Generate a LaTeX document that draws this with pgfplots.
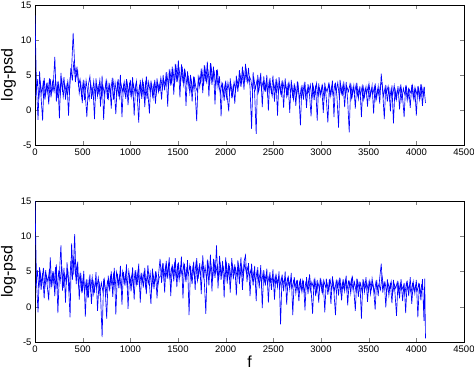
\documentclass[border=0pt]{standalone}
\usepackage{pgfplots}
\pgfplotsset{compat=1.18}
\usepackage{fontspec}
\setmainfont{Liberation Sans}
\begin{document}
\begin{tikzpicture}
\path[use as bounding box] (0pt,0pt) rectangle (474pt,370pt);
\pgfplotsset{
  psd/.style={
    scale only axis, width=429pt,
    xmin=0, xmax=4500, ymin=-5, ymax=15,
    xtick={0,500,...,4500}, ytick={-5,0,5,10,15},
    scaled x ticks=false,
    /pgf/number format/1000 sep={},
    /pgf/number format/assume math mode=true,
    tick label style={font=\fontsize{9.5}{11}\selectfont},
    tick align=inside, major tick length=4pt,
    ylabel={log-psd},
    ylabel style={font=\fontsize{16}{18}\selectfont, at={(axis description cs:-0.062,0.5)}, anchor=center, rotate=0},
    axis line style={line width=0.5pt},
    every axis plot/.append style={blue, line width=0.65pt},
  }
}
\begin{axis}[psd, height=140pt, at={(35pt,365pt)}, anchor=north west]
\addplot[blue] coordinates {
(0,13.5)(16,3.0)(32,-1.4)(48,5.5)(64,1.8)(80,-1.5)(96,4.6)(112,2.2)(128,3.9)(144,0.8)(160,4.4)(176,2.5)(192,3.6)(208,7.6)(224,1.2)(240,4.1)(256,-1.2)(272,5.3)(288,2.6)(304,4.7)(320,1.5)(336,3.8)(352,-0.8)
(368,4.5)(384,5.8)(400,11.0)(416,6.5)(432,4.8)(448,5.6)(464,2.4)
(480,3.9)(496,1.0)(512,4.3)(528,2.1)(544,-1.0)(560,3.6)(576,4.8)(592,1.6)(608,3.3)(624,-1.3)(640,4.5)(656,2.0)(672,3.7)(688,0.5)(704,4.9)(720,-1.4)(736,3.1)(752,4.2)(768,1.4)(784,3.8)(800,0.2)(816,4.6)(832,2.7)(848,-0.6)(864,4.1)(880,1.9)(896,5.0)(912,-1.0)(928,3.5)(944,2.3)(960,4.4)(976,0.7)(992,3.9)(1008,1.8)(1024,4.7)(1040,-0.8)(1056,3.4)(1072,2.2)(1088,-1.8)(1104,4.3)(1120,1.6)(1136,4.0)(1152,0.4)(1168,4.8)(1184,2.5)(1200,-0.5)(1216,4.2)(1232,2.0)(1248,3.8)(1264,0.9)(1280,4.5)(1296,2.6)
(1312,3.9)(1328,1.5)(1344,5.0)(1360,2.8)(1376,5.4)(1392,0.5)(1408,5.8)(1424,3.5)(1440,6.2)(1456,2.2)(1472,6.6)(1488,4.0)(1504,7.1)(1520,1.8)(1536,6.5)(1552,3.9)(1568,5.9)(1584,0.6)(1600,5.5)
(1616,3.0)(1632,5.0)(1648,1.2)(1664,4.8)(1680,2.5)(1696,-1.6)(1712,4.6)
(1728,3.3)(1744,5.9)(1760,2.4)(1776,6.4)(1792,4.1)(1808,6.9)(1824,1.9)(1840,6.7)(1856,3.6)(1872,6.2)(1888,0.8)(1904,5.7)(1920,3.2)
(1936,4.8)(1952,-0.9)(1968,3.9)(1984,1.3)(2000,4.2)(2016,2.0)(2032,-0.2)(2048,4.5)(2064,1.7)(2080,3.6)(2096,0.9)
(2112,4.9)(2128,2.6)(2144,5.7)(2160,3.3)(2176,6.2)(2192,2.9)(2208,6.6)(2224,4.0)(2240,6.0)
(2256,3.1)(2272,-2.7)(2288,5.4)(2304,2.4)(2320,-3.4)(2336,5.0)(2352,3.2)(2368,5.3)(2384,0.4)(2400,4.8)
(2416,2.6)(2432,5.0)(2448,-0.1)(2464,4.6)(2480,2.3)(2496,4.9)(2512,1.2)(2528,4.4)(2544,-0.8)(2560,4.7)(2576,2.5)(2592,4.2)(2608,0.3)(2624,4.5)(2640,2.0)(2656,3.9)(2672,-0.4)(2688,4.3)
(2704,1.7)(2720,3.8)(2736,0.6)(2752,4.1)(2768,2.2)(2784,-2.2)(2800,3.6)(2816,1.5)(2832,4.0)(2848,0.3)(2864,3.7)(2880,2.1)(2896,-0.9)(2912,3.9)(2928,1.4)(2944,3.5)(2960,-1.5)(2976,3.8)(2992,2.0)(3008,3.3)(3024,-0.4)(3040,3.9)(3056,1.6)(3072,-1.8)(3088,3.5)
(3104,2.2)(3120,4.2)(3136,-1.0)(3152,3.9)(3168,1.8)(3184,-2.5)(3200,4.3)(3216,2.4)(3232,3.7)(3248,0.4)(3264,4.0)(3280,1.3)(3296,-3.2)(3312,3.8)(3328,2.0)(3344,3.5)(3360,0.2)(3376,3.9)(3392,1.6)
(3408,3.4)(3424,-1.0)(3440,3.6)(3456,1.9)(3472,3.3)(3488,0.5)(3504,3.7)(3520,2.1)(3536,3.5)(3552,-0.5)(3568,3.8)(3584,1.7)(3600,3.4)(3616,0.9)(3632,5.2)(3648,2.4)(3664,-1.3)(3680,3.6)(3696,1.2)(3712,3.3)(3728,-0.2)(3744,3.5)(3760,-1.9)(3776,3.1)(3792,1.5)(3808,3.4)(3824,0.1)(3840,3.3)(3856,1.8)(3872,-1.0)(3888,3.5)(3904,1.4)(3920,3.2)(3936,0.3)(3952,3.6)(3968,1.7)(3984,3.1)(4000,-0.8)(4016,3.4)(4032,1.5)(4048,3.7)(4064,0.6)(4080,3.3)(4096,1.0)
};
\addplot[blue] coordinates {
(8,2.0)(24,4.4)(40,1.6)(56,3.9)(72,2.3)(88,4.2)(104,1.5)(120,3.6)(136,2.4)(152,4.5)(168,1.8)(184,4.0)(200,2.6)(216,4.3)(232,1.7)(248,3.8)(264,2.1)(280,4.6)(296,1.9)(312,3.7)(328,2.5)(344,4.1)(360,2.2)(376,6.0)(392,4.2)(408,7.0)(424,4.0)(440,6.2)(456,3.5)(472,4.4)
(488,2.0)(504,3.9)(520,1.4)(536,4.2)(552,2.6)(568,1.5)(584,3.8)(600,2.3)(616,4.1)(632,1.7)(648,3.6)(664,2.5)(680,4.3)(696,1.9)(712,3.5)(728,2.2)(744,4.0)(760,1.6)(776,3.7)(792,2.4)(808,4.2)(824,1.5)(840,3.9)(856,2.1)(872,4.4)(888,1.8)(904,3.6)(920,2.6)(936,4.0)(952,1.6)(968,3.8)(984,2.3)(1000,4.3)(1016,1.9)(1032,3.7)(1048,2.5)(1064,4.1)(1080,1.7)(1096,3.5)(1112,2.4)(1128,4.2)(1144,2.0)(1160,3.9)(1176,1.6)(1192,4.0)(1208,2.6)(1224,3.7)(1240,1.8)(1256,4.3)(1272,2.3)(1288,3.8)(1304,2.9)
(1320,4.6)(1336,3.0)(1352,4.2)(1368,3.6)(1384,5.1)(1400,3.2)(1416,5.5)(1432,3.9)(1448,5.6)(1464,3.7)(1480,6.1)(1496,4.3)(1512,5.8)(1528,4.0)(1544,6.2)(1560,3.6)(1576,5.4)(1592,3.8)
(1608,4.7)(1624,2.4)(1640,4.2)(1656,2.8)(1672,4.5)(1688,3.2)(1704,2.6)(1720,4.8)
(1736,3.9)(1752,5.6)(1768,3.5)(1784,5.9)(1800,4.0)(1816,5.5)(1832,3.7)(1848,6.2)(1864,4.3)(1880,5.4)(1896,3.4)(1912,5.8)(1928,3.6)
(1944,2.4)(1960,3.8)(1976,2.2)(1992,3.5)(2008,1.8)(2024,3.9)(2040,2.5)(2056,3.6)(2072,2.0)(2088,4.0)(2104,2.8)
(2120,4.2)(2136,3.4)(2152,5.0)(2168,3.8)(2184,5.4)(2200,4.1)(2216,5.7)(2232,3.9)(2248,4.8)
(2264,4.3)(2280,2.8)(2296,4.5)(2312,3.0)(2328,4.2)(2344,2.6)(2360,4.4)(2376,3.1)(2392,4.0)(2408,2.9)
(2424,3.9)(2440,2.2)(2456,4.1)(2472,3.3)(2488,2.0)(2504,3.8)(2520,2.7)(2536,4.2)(2552,2.4)(2568,3.6)(2584,2.1)(2600,4.0)(2616,2.8)(2632,3.5)(2648,2.2)(2664,3.9)(2680,2.6)(2696,3.4)
(2712,1.5)(2728,3.3)(2744,2.0)(2760,3.6)(2776,1.4)(2792,3.2)(2808,2.3)(2824,3.7)(2840,1.8)(2856,3.0)(2872,2.5)(2888,3.6)(2904,1.6)(2920,3.3)(2936,2.2)(2952,3.8)(2968,1.9)(2984,3.1)(3000,2.4)(3016,3.5)(3032,1.7)(3048,3.2)(3064,2.6)(3080,3.7)(3096,1.9)
(3112,3.3)(3128,2.1)(3144,3.6)(3160,2.7)(3176,3.9)(3192,1.8)(3208,3.4)(3224,2.2)(3240,3.8)(3256,2.0)(3272,3.3)(3288,2.6)(3304,3.7)(3320,1.7)(3336,3.2)(3352,2.4)(3368,3.6)(3384,2.1)(3400,3.0)
(3416,2.2)(3432,3.4)(3448,1.5)(3464,3.1)(3480,2.4)(3496,3.5)(3512,1.6)(3528,3.0)(3544,2.3)(3560,3.3)(3576,1.4)(3592,2.9)(3608,2.2)(3624,3.6)(3640,3.9)(3656,2.0)(3672,3.2)(3688,2.5)(3704,3.4)(3720,1.5)(3736,3.0)(3752,2.1)(3768,3.5)(3784,1.7)(3800,2.8)(3816,2.3)(3832,3.4)(3848,1.4)(3864,3.1)(3880,2.2)(3896,3.3)(3912,1.6)(3928,2.9)(3944,2.4)(3960,3.5)(3976,1.5)(3992,3.0)(4008,2.1)(4024,3.2)(4040,1.8)(4056,3.4)(4072,2.0)(4088,3.3)
};
\end{axis}
\begin{axis}[psd, height=141pt, at={(35pt,169pt)}, anchor=north west,
  xlabel={f}, xlabel style={font=\fontsize{16}{18}\selectfont, at={(axis description cs:0.5,-0.14)}, anchor=center}]
\addplot[blue] coordinates {
(0,15.0)(16,3.5)(32,-0.8)(48,5.6)(64,2.4)(80,4.8)(96,1.2)(112,5.2)(128,3.0)(144,0.9)(160,7.0)(176,2.8)(192,5.0)(208,1.5)(224,6.0)(240,-0.9)(256,4.6)(272,8.7)(288,2.3)(304,5.5)(320,0.6)(336,6.3)(352,3.0)(368,-1.5)(384,9.0)(400,4.5)(416,10.3)(432,3.2)(448,6.4)(464,1.0)
(480,4.8)(496,2.0)(512,5.1)(528,-1.4)(544,3.9)(560,1.3)(576,4.6)(592,0.4)(608,3.8)(624,2.0)(640,4.9)(656,-0.6)(672,3.6)(688,1.6)(704,-4.3)(720,4.0)(736,2.5)(752,-1.7)(768,4.4)(784,2.2)
(800,5.0)(816,1.4)(832,5.5)(848,-1.1)(864,4.7)(880,2.6)(896,5.8)(912,0.3)(928,4.9)(944,3.0)(960,6.0)(976,-0.3)(992,4.5)(1008,2.2)(1024,5.6)(1040,1.0)(1056,5.2)(1072,3.1)(1088,6.1)(1104,0.6)(1120,4.8)(1136,2.7)(1152,5.5)(1168,1.8)(1184,5.9)(1200,3.3)(1216,0.4)(1232,5.4)(1248,2.5)(1264,5.0)(1280,1.2)(1296,4.6)
(1312,6.8)(1328,3.4)(1344,6.2)(1360,2.0)(1376,6.5)(1392,4.0)(1408,7.0)(1424,1.5)(1440,6.0)(1456,3.6)(1472,6.9)(1488,2.8)(1504,6.3)(1520,4.2)(1536,7.1)(1552,1.2)(1568,6.1)(1584,3.5)(1600,6.6)(1616,-1.2)(1632,5.8)(1648,3.2)(1664,6.4)(1680,2.4)(1696,6.9)(1712,4.0)(1728,6.2)(1744,1.8)(1760,7.3)(1776,3.6)(1792,-1.0)(1808,6.7)(1824,3.0)(1840,7.4)(1856,2.2)(1872,6.8)(1888,4.1)(1904,8.7)(1920,2.6)(1936,7.2)(1952,3.8)(1968,6.5)(1984,1.3)(2000,7.0)(2016,3.3)(2032,6.2)(2048,2.0)(2064,6.9)(2080,3.9)(2096,6.0)(2112,1.6)(2128,6.6)(2144,3.2)(2160,7.0)(2176,2.4)(2192,6.4)(2208,7.3)(2224,3.5)(2240,6.2)
(2256,1.5)(2272,6.1)(2288,3.0)(2304,5.8)(2320,0.8)(2336,5.6)(2352,2.6)(2368,5.9)(2384,-0.2)(2400,5.2)(2416,3.0)(2432,5.4)(2448,0.6)(2464,4.9)(2480,2.4)(2496,5.3)(2512,1.0)(2528,4.7)(2544,2.8)(2560,5.0)(2576,-2.5)(2592,4.6)(2608,2.2)(2624,5.0)(2640,0.3)(2656,4.4)(2672,2.5)(2688,4.8)(2704,-1.2)(2720,4.2)(2736,1.9)(2752,3.8)
(2768,0.8)(2784,4.0)(2800,2.1)(2816,3.7)(2832,-0.5)(2848,4.2)(2864,1.8)(2880,4.6)(2896,2.4)(2912,-1.0)(2928,4.0)(2944,1.5)(2960,3.8)(2976,0.6)(2992,4.1)(3008,2.3)(3024,3.6)(3040,-0.8)(3056,4.0)(3072,1.7)(3088,3.9)(3104,0.4)(3120,4.3)(3136,2.0)(3152,-1.2)(3168,3.8)(3184,1.6)(3200,4.1)(3216,0.9)(3232,3.9)(3248,2.2)(3264,4.4)(3280,0.2)(3296,3.7)(3312,1.9)(3328,4.4)(3344,2.5)(3360,-0.6)(3376,4.0)(3392,1.4)(3408,3.6)(3424,-1.7)(3440,3.9)(3456,2.1)(3472,4.2)(3488,0.7)(3504,3.7)(3520,1.8)(3536,4.0)(3552,2.4)(3568,-0.4)(3584,3.8)(3600,1.5)(3616,4.1)(3632,6.1)(3648,2.0)(3664,3.6)(3680,-0.1)(3696,3.9)(3712,1.6)(3728,3.4)(3744,0.5)(3760,3.8)(3776,2.0)(3792,-1.3)(3808,3.6)(3824,1.2)(3840,3.9)(3856,0.8)(3872,3.4)(3888,-0.9)(3904,3.7)(3920,1.5)(3936,4.2)(3952,0.4)(3968,3.5)(3984,1.9)(4000,3.8)(4016,-1.5)(4032,3.3)(4048,0.9)(4064,3.9)(4080,-2.0)(4088,4.0)(4096,-4.5)
};
\addplot[blue] coordinates {
(8,3.0)(24,5.2)(40,2.6)(56,4.8)(72,3.3)(88,5.5)(104,2.8)(120,4.4)(136,3.5)(152,5.4)(168,2.9)(184,4.7)(200,3.2)(216,5.6)(232,2.5)(248,4.9)(264,3.6)(280,5.8)(296,2.7)(312,4.6)(328,3.4)(344,5.3)(360,2.0)(376,6.5)(392,3.8)(408,7.2)(424,4.5)(440,5.9)(456,3.0)(472,4.6)
(488,2.3)(504,4.0)(520,2.0)(536,3.6)(552,1.6)(568,3.9)(584,2.4)(600,4.2)(616,1.8)(632,3.5)(648,2.6)(664,4.1)(680,1.9)(696,3.4)(712,2.2)(728,3.8)(744,1.7)(760,3.6)(776,2.8)(792,4.3)
(808,3.0)(824,4.6)(840,2.8)(856,4.9)(872,3.3)(888,4.4)(904,2.6)(920,5.0)(936,3.4)(952,4.7)(968,2.9)(984,5.1)(1000,3.5)(1016,4.5)(1032,2.7)(1048,4.8)(1064,3.2)(1080,5.0)(1096,2.9)(1112,4.6)(1128,3.6)(1144,4.9)(1160,2.8)(1176,4.4)(1192,3.3)(1208,4.8)(1224,2.6)(1240,4.5)(1256,3.4)(1272,4.7)(1288,3.0)(1304,4.2)
(1320,4.4)(1336,5.9)(1352,4.0)(1368,5.7)(1384,4.3)(1400,6.0)(1416,3.9)(1432,5.5)(1448,4.6)(1464,6.1)(1480,4.1)(1496,5.8)(1512,3.8)(1528,5.6)(1544,4.4)(1560,6.0)(1576,4.0)(1592,5.4)(1608,4.5)(1624,5.9)(1640,3.9)(1656,5.6)(1672,4.3)(1688,6.1)(1704,3.7)(1720,5.5)(1736,4.6)(1752,6.0)(1768,4.2)(1784,5.7)(1800,3.8)(1816,6.2)(1832,4.4)(1848,5.8)(1864,4.0)(1880,6.3)(1896,4.7)(1912,5.9)(1928,4.1)(1944,6.0)(1960,4.5)(1976,5.6)(1992,3.9)(2008,6.1)(2024,4.3)(2040,5.7)(2056,4.0)(2072,5.9)(2088,4.6)(2104,5.5)(2120,4.2)(2136,6.0)(2152,4.4)(2168,5.8)(2184,4.1)(2200,6.2)(2216,4.8)(2232,5.6)(2248,4.3)
(2264,5.2)(2280,3.8)(2296,4.9)(2312,3.5)(2328,5.0)(2344,3.7)(2360,4.6)(2376,3.3)(2392,4.8)(2408,3.6)(2424,4.5)(2440,3.2)(2456,4.4)(2472,3.5)(2488,4.2)(2504,3.0)(2520,4.3)(2536,3.4)(2552,4.0)(2568,2.8)(2584,4.1)(2600,3.3)(2616,3.9)(2632,2.7)(2648,4.0)(2664,3.1)(2680,3.8)(2696,2.6)(2712,3.7)(2728,2.9)(2744,3.6)(2760,2.2)
(2776,3.5)(2792,2.4)(2808,3.7)(2824,2.0)(2840,3.4)(2856,2.6)(2872,3.8)(2888,2.2)(2904,3.5)(2920,2.7)(2936,3.9)(2952,2.1)(2968,3.4)(2984,2.5)(3000,3.7)(3016,2.0)(3032,3.6)(3048,2.8)(3064,3.3)(3080,2.3)(3096,3.8)(3112,2.5)(3128,3.5)(3144,2.2)(3160,3.7)(3176,2.7)(3192,3.9)(3208,2.1)(3224,3.4)(3240,2.6)(3256,3.8)(3272,2.3)(3288,3.6)(3304,2.8)(3320,3.9)(3336,2.4)(3352,3.5)(3368,2.1)(3384,3.7)(3400,2.6)(3416,3.3)(3432,2.0)(3448,3.6)(3464,2.7)(3480,3.4)(3496,2.2)(3512,3.7)(3528,2.5)(3544,3.3)(3560,2.0)(3576,3.5)(3592,2.6)(3608,3.2)(3624,2.4)(3640,4.4)(3656,2.8)(3672,3.4)(3688,2.1)(3704,3.3)(3720,2.5)(3736,3.6)(3752,1.9)(3768,3.2)(3784,2.6)(3800,3.5)(3816,2.0)(3832,3.3)(3848,2.4)(3864,3.0)(3880,1.8)(3896,3.4)(3912,2.5)(3928,3.1)(3944,2.0)(3960,3.3)(3976,2.3)(3992,3.0)(4008,2.2)(4024,3.2)(4040,1.9)(4056,3.1)(4072,2.4)
};
\end{axis}
\end{tikzpicture}
\end{document}
